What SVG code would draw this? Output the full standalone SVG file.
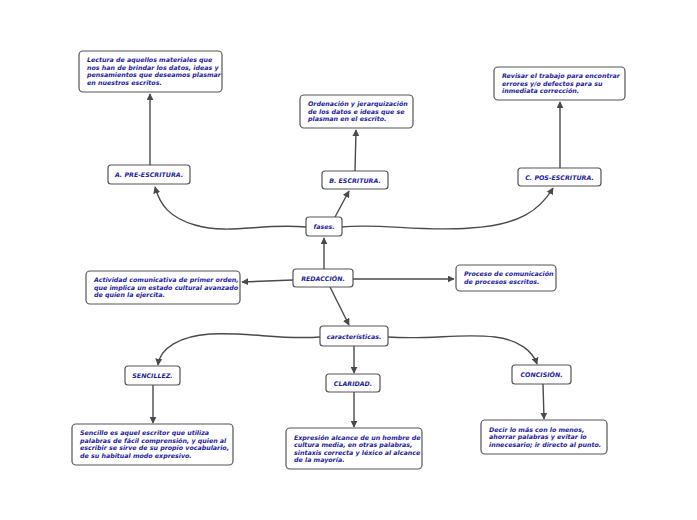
<svg xmlns="http://www.w3.org/2000/svg" width="697" height="520" viewBox="0 0 697 520">
<style>
.b{fill:#fff;stroke:#555;stroke-width:1.2}
text{font-family:"DejaVu Sans",Verdana,sans-serif;font-weight:bold;font-style:italic;font-size:6.3px;fill:#1c1ca0}
.c path{fill:none;stroke:#4a4a4a;stroke-width:1.4;marker-end:url(#a)}
</style>
<defs><marker id="a" viewBox="0 0 10 10" refX="9" refY="5" markerWidth="5" markerHeight="5" orient="auto"><path d="M0,0L10,5L0,10z" fill="#4a4a4a"/></marker></defs>
<rect width="697" height="520" fill="#fff"/>
<g class="c">
<path d="M306,227C260,223 230,235 195,225C170,218 160,205 155,187"/>
<path d="M342,227C380,223 420,232 470,228C520,225 540,210 553,188"/>
<path d="M335,217L349,191"/>
<path d="M324,269L324,238"/>
<path d="M293,280L242,282"/>
<path d="M353,279L454,279"/>
<path d="M330,287L349,325"/>
<path d="M320,337C280,340 250,332 210,334C180,336 160,348 158,365"/>
<path d="M388,337C430,340 460,333 495,337C520,340 533,352 537,364"/>
<path d="M354,346L354,373"/>
<path d="M150,165L150,94"/>
<path d="M355,171L356,130"/>
<path d="M560,168L560,102"/>
<path d="M153,385L153,423"/>
<path d="M354,392L354,427"/>
<path d="M543,384L544,419"/>
</g>
<g id="n1"><rect class="b" x="79" y="51" width="143" height="41" rx="4"/><text x="87" y="62">Lectura de aquellos materiales que</text><text x="87" y="69.5">nos han de brindar los datos, ideas y</text><text x="87" y="77">pensamientos que deseamos plasmar</text><text x="87" y="84.5">en nuestros escritos.</text></g>
<g id="n2"><rect class="b" x="108" y="165" width="82" height="19" rx="3"/><text x="149" y="177" text-anchor="middle">A. PRE-ESCRITURA.</text></g>
<g id="n3"><rect class="b" x="300" y="95" width="113" height="33" rx="4"/><text x="308" y="106">Ordenación y jerarquización</text><text x="308" y="113.5">de los datos e ideas que se</text><text x="308" y="121">plasman en el escrito.</text></g>
<g id="n4"><rect class="b" x="322" y="171" width="66" height="18" rx="3"/><text x="355" y="182.5" text-anchor="middle">B. ESCRITURA.</text></g>
<g id="n5"><rect class="b" x="494" y="67" width="131" height="33" rx="4"/><text x="502" y="78">Revisar el trabajo para encontrar</text><text x="502" y="85.5">errores y/o defectos para su</text><text x="502" y="93">inmediata corrección.</text></g>
<g id="n6"><rect class="b" x="518" y="168" width="83" height="18" rx="3"/><text x="559.5" y="179.5" text-anchor="middle">C. POS-ESCRITURA.</text></g>
<g id="n7"><rect class="b" x="306" y="217" width="36" height="19" rx="3"/><text x="324" y="229" text-anchor="middle">fases.</text></g>
<g id="n8"><rect class="b" x="293" y="269" width="60" height="18" rx="3"/><text x="323" y="280.5" text-anchor="middle">REDACCIÓN.</text></g>
<g id="n9"><rect class="b" x="86" y="271" width="154" height="33" rx="4"/><text x="94" y="282">Actividad comunicativa de primer orden,</text><text x="94" y="289.5">que implica un estado cultural avanzado</text><text x="94" y="297">de quien la ejercita.</text></g>
<g id="n10"><rect class="b" x="456" y="265" width="100" height="26" rx="4"/><text x="464" y="276">Proceso de comunicación</text><text x="464" y="283.5">de procesos escritos.</text></g>
<g id="n11"><rect class="b" x="320" y="326" width="68" height="20" rx="3"/><text x="354" y="338.5" text-anchor="middle">características.</text></g>
<g id="n12"><rect class="b" x="125" y="366" width="55" height="19" rx="3"/><text x="152.5" y="378" text-anchor="middle">SENCILLEZ.</text></g>
<g id="n13"><rect class="b" x="326" y="374" width="54" height="18" rx="3"/><text x="353" y="385.5" text-anchor="middle">CLARIDAD.</text></g>
<g id="n14"><rect class="b" x="512" y="365" width="59" height="19" rx="3"/><text x="541.5" y="377" text-anchor="middle">CONCISIÓN.</text></g>
<g id="n15"><rect class="b" x="72" y="424" width="161" height="41" rx="4"/><text x="80" y="435">Sencillo es aquel escritor que utiliza</text><text x="80" y="442.5">palabras de fácil comprensión, y quien al</text><text x="80" y="450">escribir se sirve de su propio vocabulario,</text><text x="80" y="457.5">de su habitual modo expresivo.</text></g>
<g id="n16"><rect class="b" x="286" y="428" width="136" height="41" rx="4"/><text x="294" y="439.5">Expresión alcance de un hombre de</text><text x="294" y="447">cultura media, en otras palabras,</text><text x="294" y="454.5">sintaxis correcta y léxico al alcance</text><text x="294" y="462">de la mayoría.</text></g>
<g id="n17"><rect class="b" x="481" y="420" width="126" height="34" rx="4"/><text x="489" y="431.5">Decir lo más con lo menos,</text><text x="489" y="439">ahorrar palabras y evitar lo</text><text x="489" y="446.5">innecesario; ir directo al punto.</text></g>
</svg>
